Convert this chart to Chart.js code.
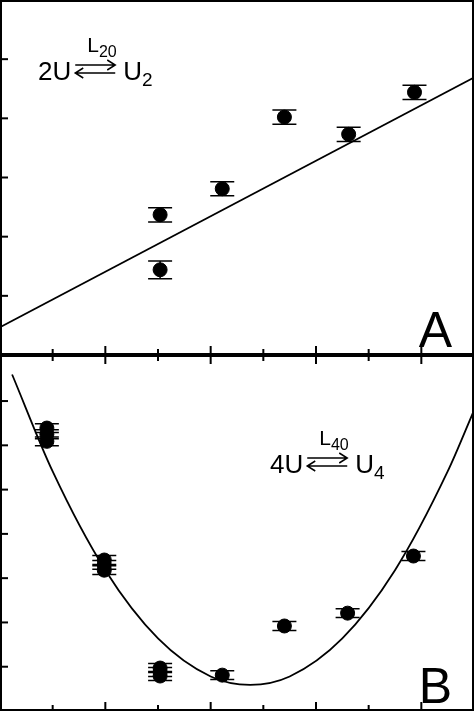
<!DOCTYPE html>
<html><head><script src="https://cdn.jsdelivr.net/npm/chart.js@4"></script>
<style>body{margin:0;background:#fff}div{position:relative;width:474px}</style></head>
<body><div style="height:355px"><canvas id="a"></canvas></div><div style="height:356px"><canvas id="b"></canvas></div>
<script>
const aX=[3.04,3.04,4.22,5.4,6.62,7.87];
const aY=[2.37,1.44,2.81,4.02,3.73,4.44];
const aErr=[0.12,0.15,0.12,0.12,0.12,0.12];
const aLineX=[0,9], aLineY=[0.47,4.69];
const bX=[0.89,0.89,0.89,1.98,1.98,1.98,3.04,3.04,3.04,4.22,5.4,6.6,7.85];
const bY=[6.39,6.25,6.09,3.41,3.30,3.18,0.97,0.88,0.79,0.81,1.92,2.21,3.50];
const bErr=[0.1,0.1,0.1,0.1,0.1,0.1,0.1,0.1,0.1,0.1,0.1,0.1,0.1];
const bCurveX=[0.23,1,2,3,4,4.75,5.5,6.5,7.5,8.5,9];
const bCurveY=[7.6,5.41,3.18,1.64,0.78,0.59,0.78,1.64,3.18,5.41,6.79];
const xTicks=[1,2,3,4,5,6,7,8];
const aYTicks=[1,2,3,4,5], bYTicks=[1,2,3,4,5,6,7];
function deco(err,yt,letter,lab,tickTop){return{id:'d',afterDatasetsDraw(c){
 const g=c.ctx,x=c.scales.x,y=c.scales.y,ca=c.chartArea,d=c.data.datasets[1].data;
 g.save();g.strokeStyle='#000';g.lineWidth=1.5;
 d.forEach((p,i)=>{const px=x.getPixelForValue(p.x),t=y.getPixelForValue(p.y+err[i]),b=y.getPixelForValue(p.y-err[i]);
  g.beginPath();g.moveTo(px,t);g.lineTo(px,b);g.moveTo(px-12,t);g.lineTo(px+12,t);g.moveTo(px-12,b);g.lineTo(px+12,b);g.stroke();});
 g.lineWidth=2;g.strokeRect(ca.left+1,ca.top+1,ca.width-2,ca.height-2);
 yt.forEach(v=>{const py=y.getPixelForValue(v);g.beginPath();g.moveTo(0,py);g.lineTo(8,py);g.stroke();});
 xTicks.forEach(v=>{const px=x.getPixelForValue(v),L=v%2?6:9;g.beginPath();
  g.moveTo(px,ca.bottom);g.lineTo(px,ca.bottom-L);if(tickTop){g.moveTo(px,ca.top);g.lineTo(px,ca.top+L);}g.stroke();});
 g.fillStyle='#000';g.font='50px Arial, Liberation Sans';g.textAlign='right';g.textBaseline='alphabetic';
 g.fillText(letter,ca.right-22,ca.bottom-8);
 g.font='26px Arial, Liberation Sans';g.textAlign='left';
 const [lx,ly,l,s,sub,ls]=lab;g.fillText(l,lx,ly);const w=g.measureText(l).width;
 const ax=lx+w+4,ae=ax+40;g.lineWidth=1.5;g.beginPath();
 g.moveTo(ax,ly-15);g.lineTo(ae,ly-15);g.moveTo(ae-8,ly-20);g.lineTo(ae,ly-15);g.lineTo(ae-8,ly-10);
 g.moveTo(ae,ly-7);g.lineTo(ax,ly-7);g.moveTo(ax+8,ly-12);g.lineTo(ax,ly-7);g.lineTo(ax+8,ly-2);g.stroke();
 g.fillText(s,ae+8,ly);const w2=g.measureText(s).width;g.font='19px Arial, Liberation Sans';g.fillText(sub,ae+8+w2,ly+6);
 g.font='21px Arial, Liberation Sans';g.fillText(ls[0],ax+12,ly-28);const w3=g.measureText(ls[0]).width;
 g.font='16px Arial, Liberation Sans';g.fillText(ls[1],ax+12+w3,ly-23);
 g.restore();}}}
function mk(id,lx,ly,px,py,ymax,err,yt,letter,lab,tickTop){
 new Chart(document.getElementById(id),{type:'scatter',data:{datasets:[
  {data:lx.map((v,i)=>({x:v,y:ly[i]})),showLine:true,borderColor:'#000',borderWidth:1.8,pointRadius:0,tension:0.4,cubicInterpolationMode:'monotone'},
  {data:px.map((v,i)=>({x:v,y:py[i]})),pointRadius:7,backgroundColor:'#000',borderColor:'#000'}]},
  options:{responsive:true,maintainAspectRatio:false,animation:false,layout:{padding:0,autoPadding:false},
  plugins:{legend:{display:false},tooltip:{enabled:false}},
  scales:{x:{display:false,min:0,max:9},y:{display:false,min:0,max:ymax}}},plugins:[deco(err,yt,letter,lab,tickTop)]});}
mk('a',aLineX,aLineY,aX,aY,6,aErr,aYTicks,'A',[38,80,'2U','U','2',['L','20']],false);
mk('b',bCurveX,bCurveY,bX,bY,8.04,bErr,bYTicks,'B',[270,118,'4U','U','4',['L','40']],true);
</script></body></html>
